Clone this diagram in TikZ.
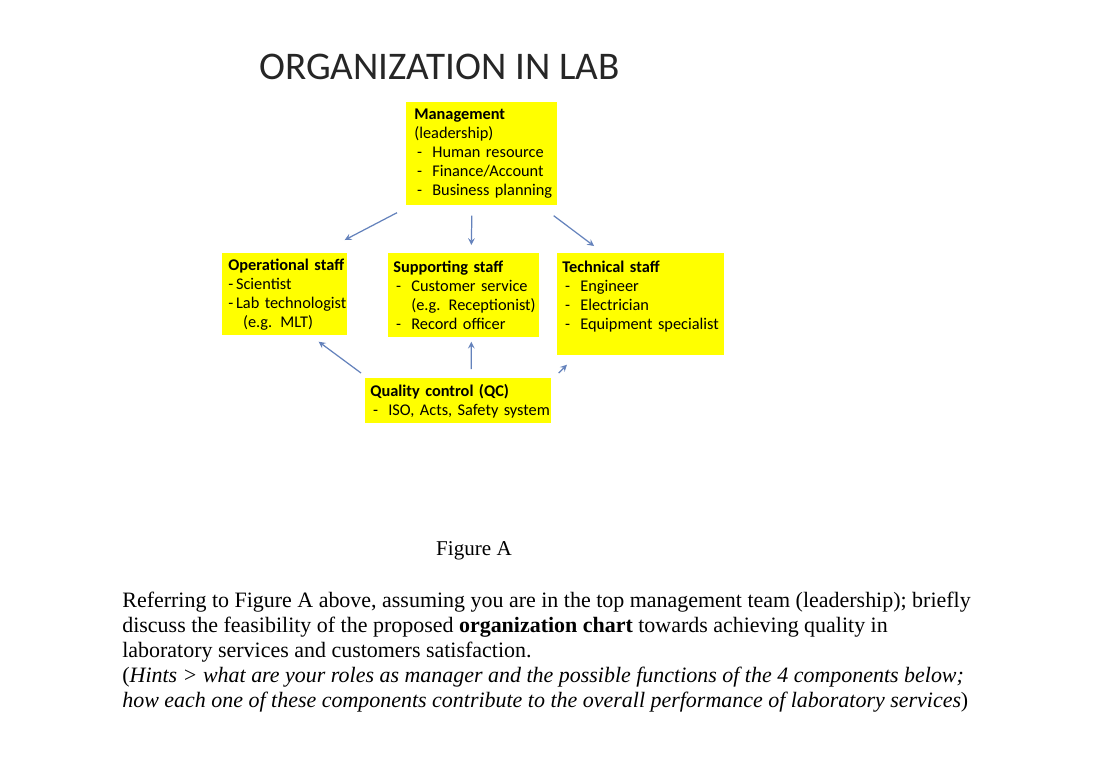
\documentclass[tikz,border=0pt]{standalone}
\usepackage{fontspec}
\setmainfont{Liberation Serif}
\newfontfamily\boxfont{Carlito}
\usepackage{tikz}
\usetikzlibrary{arrows,positioning,calc}
\definecolor{boxyellow}{RGB}{255,255,0}
\definecolor{linkblue}{RGB}{100,130,188}
\newcommand{\boxtext}{\boxfont\fontsize{9.3}{10.8}\selectfont\hyphenpenalty=10000\exhyphenpenalty=10000\relax}
\tikzstyle{staffbox} = [fill=boxyellow,anchor=north west,align=left,inner xsep=0.1cm,inner ysep=0.08cm,font=\boxtext]
\tikzstyle{link} = [linkblue,line width=0.7pt,->,>=stealth]
\newcommand{\itm}[1]{\mbox{\makebox[1.1em][l]{\,-}#1}}

\begin{document}
\begin{tikzpicture}[x=0.02cm,y=-0.02cm]
            \useasboundingbox (0,0) rectangle (1102,782);
            \node[anchor=west,font=\boxfont\fontsize{22.3}{26}\selectfont,text=black!85] (title) at (253,67) {ORGANIZATION IN LAB};
            % top
            \node[staffbox,text width=2.7cm,minimum height=2.06cm,inner xsep=0.16cm] (mgmt) at (406,102)
            {\textbf{Management}\\(leadership)\\\itm{Human resource}\\\itm{Finance/Account}\\\itm{Business planning}};
            % middle row
            \node[staffbox,text width=2.26cm,minimum height=1.64cm,inner xsep=0.12cm] (ops) at (222,253)
            {\mbox{\textbf{Operational staff}}\\-\,Scientist\\\mbox{-\,Lab technologist}\\\hspace*{0.9em}(e.g. MLT)};
            \node[staffbox,text width=2.82cm,minimum height=1.68cm] (sup) at (388,253)
            {\textbf{Supporting staff}\\\itm{Customer service}\\\mbox{\hspace*{1.1em}(e.g. Receptionist)}\\\itm{Record officer}};
            \node[staffbox,text width=3.14cm,minimum height=2.04cm] (tech) at (557,253)
            {\textbf{Technical staff}\\\itm{Engineer}\\\itm{Electrician}\\\itm{Equipment specialist}\\ \mbox{}};
            % bottom
            \node[staffbox,text width=3.52cm,minimum height=0.9cm] (qc) at (365,378)
            {\textbf{Quality control (QC)}\\\itm{ISO, Acts, Safety system}};
            \draw[link] ([shift={(-9,7)}]mgmt.south west) -- ([shift={(-3,-13)}]ops.north east);
            \draw[link] ([shift={(-10,10)}]mgmt.south) -- ([shift={(7.5,-8)}]sup.north);
            \draw[link] ([shift={(-4,10)}]mgmt.south east) -- ([shift={(37,-7)}]tech.north west);
            \draw[link] ([shift={(-4,-5)}]qc.north west) -- ([shift={(-29,6)}]ops.south east);
            \draw[link] ([shift={(13,-9)}]qc.north) -- ([shift={(7.5,4)}]sup.south);
            \draw[link] ([shift={(7,-5)}]qc.north east) -- ([shift={(10,9)}]tech.south west);
            % caption and question
            \node[font=\fontsize{12}{14}\selectfont] (fig) at (474,551) {Figure A};
            \node[anchor=north west,align=left,inner sep=0pt,font=\fontsize{12.5}{14.2}\selectfont] (question) at (122,592)
            {Referring to Figure A above, assuming you are in the top management team (leadership); briefly\\
            discuss the feasibility of the proposed \textbf{organization chart} towards achieving quality in\\
            laboratory services and customers satisfaction.\\
            (\textit{Hints > what are your roles as manager and the possible functions of the 4 components below;}\\
            \textit{how each one of these components contribute to the overall performance of laboratory services})};
        \end{tikzpicture}
\end{document}
